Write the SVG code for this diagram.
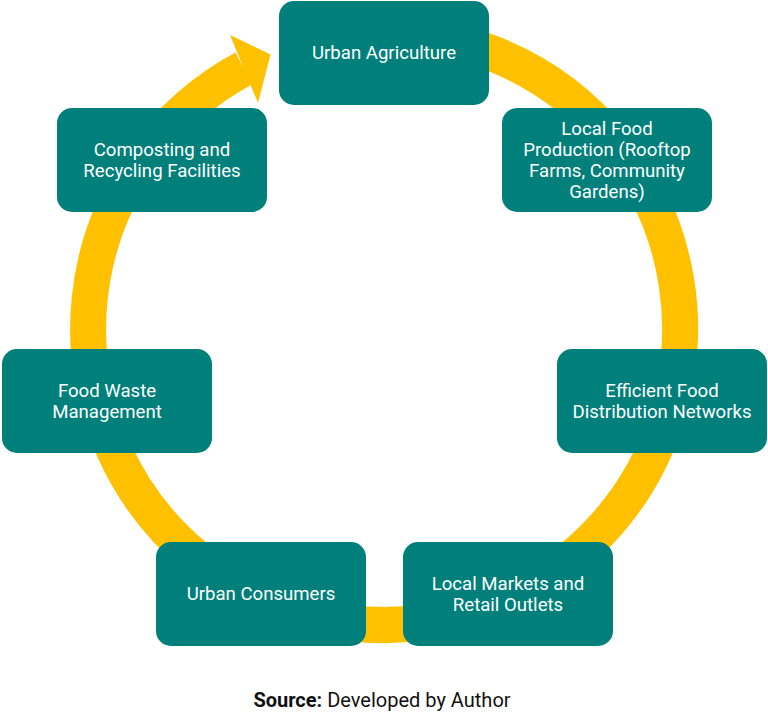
<svg xmlns="http://www.w3.org/2000/svg" width="768" height="718" viewBox="0 0 768 718">
<style>
.box{fill:#007F7B}
.t{font-family:Roboto,"Liberation Sans",sans-serif;font-size:18.6px;fill:#FFFFFF;text-anchor:middle}
.src{font-family:Roboto,"Liberation Sans",sans-serif;font-size:20px;fill:#111111;text-anchor:middle}
</style>
<rect width="768" height="718" fill="#FFFFFF"/>
<g id="connectors">
<path d="M 358.2 34.1 A 296 296 0 1 1 243.9 68.3" fill="none" stroke="#FFC000" stroke-width="36"/>
<polygon points="230,35 270.5,54.5 258,103" fill="#FFC000"/>
</g>
<g id="n1"><rect class="box" x="279" y="1" width="210" height="104" rx="15"/>
<text class="t" x="384" y="58.5">Urban Agriculture</text></g>
<g id="n2"><rect class="box" x="502" y="108" width="210" height="104" rx="15"/>
<text class="t" x="607" y="134.5">Local Food</text>
<text class="t" x="607" y="155.5">Production (Rooftop</text>
<text class="t" x="607" y="176.5">Farms, Community</text>
<text class="t" x="607" y="197.5">Gardens)</text></g>
<g id="n3"><rect class="box" x="557" y="349" width="210" height="104" rx="15"/>
<text class="t" x="662" y="396.5">Efficient Food</text>
<text class="t" x="662" y="417.5">Distribution Networks</text></g>
<g id="n4"><rect class="box" x="403" y="542" width="210" height="104" rx="15"/>
<text class="t" x="508" y="589.5">Local Markets and</text>
<text class="t" x="508" y="610.5">Retail Outlets</text></g>
<g id="n5"><rect class="box" x="156" y="542" width="210" height="104" rx="15"/>
<text class="t" x="261" y="600">Urban Consumers</text></g>
<g id="n6"><rect class="box" x="2" y="349" width="210" height="104" rx="15"/>
<text class="t" x="107" y="396.5">Food Waste</text>
<text class="t" x="107" y="417.5">Management</text></g>
<g id="n7"><rect class="box" x="57" y="108" width="210" height="104" rx="15"/>
<text class="t" x="162" y="155.5">Composting and</text>
<text class="t" x="162" y="176.5">Recycling Facilities</text></g>
<text class="src" x="382" y="707"><tspan font-weight="bold">Source:</tspan> Developed by Author</text>
</svg>
